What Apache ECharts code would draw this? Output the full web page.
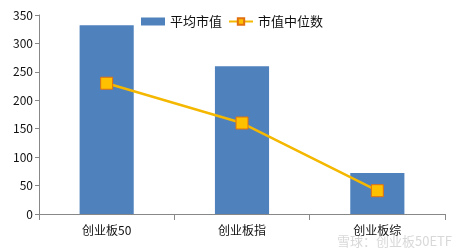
<!DOCTYPE html>
<html><head><meta charset="utf-8">
<script src="https://cdn.jsdelivr.net/npm/echarts@6/dist/echarts.min.js"></script>
<style>html,body{margin:0;padding:0;background:#fff}#c{width:460px;height:250px}</style>
</head><body><div id="c"></div>
<script>
var categories = ['创业板50', '创业板指', '创业板综'];
var avgValues = [332, 260, 72];
var medianValues = [230, 160, 41];
var yTicks = [0, 50, 100, 150, 200, 250, 300, 350];

var chart = echarts.init(document.getElementById('c'));
var font = '"Noto Sans CJK SC", "DejaVu Sans", sans-serif';
chart.setOption({
  animation: false,
  textStyle: {fontFamily: font},
  legend: {
    top: 10, left: 136, itemGap: 6, itemWidth: 24, itemHeight: 8,
    textStyle: {fontSize: 13, color: '#111', fontFamily: font},
    data: [
      {name: '平均市值', icon: 'rect'},
      {name: '市值中位数'}
    ]
  },
  grid: {left: 39, right: 15, top: 15, bottom: 36},
  xAxis: {
    type: 'category', data: categories,
    axisLine: {lineStyle: {color: '#888'}},
    axisTick: {show: true, alignWithLabel: false, length: 6, lineStyle: {color: '#888'}},
    axisLabel: {color: '#111', fontSize: 12, margin: 10, fontFamily: font}
  },
  yAxis: {
    type: 'value', min: 0, max: 350, interval: 50,
    axisLine: {show: true, lineStyle: {color: '#888'}},
    axisTick: {show: true, length: 4, lineStyle: {color: '#888'}},
    splitLine: {show: false},
    axisLabel: {color: '#111', fontSize: 12, margin: 6, fontFamily: font}
  },
  series: [
    {name: '平均市值', type: 'bar', data: avgValues, barWidth: '40%',
     itemStyle: {color: '#4F81BD'}},
    {name: '市值中位数', type: 'line', data: medianValues,
     symbol: 'rect', symbolSize: 12,
     lineStyle: {color: '#F5B800', width: 2.5},
     itemStyle: {color: '#FFC000', borderColor: '#E07010', borderWidth: 1}}
  ],
  graphic: [
    {type: 'text', right: 8, bottom: 2, style: {text: '雪球：创业板50ETF', fill: 'rgba(200,200,200,0.7)', fontSize: 13, fontFamily: font}}
  ]
});
</script></body></html>
